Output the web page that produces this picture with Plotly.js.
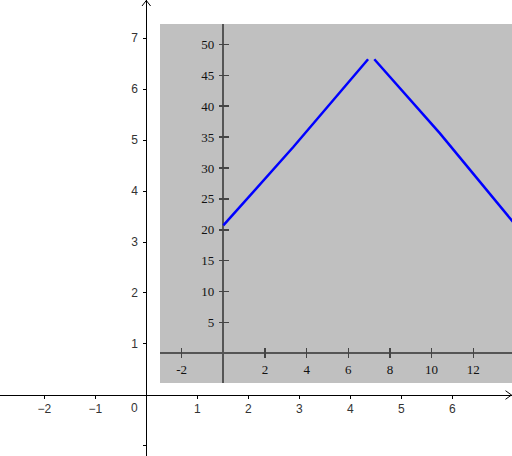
<!DOCTYPE html>
<html>
<head>
<meta charset="utf-8">
<script src="https://cdn.plot.ly/plotly-3.0.1.min.js"></script>
<style>html,body{margin:0;padding:0;background:#fff}#chart{width:512px;height:456px}</style>
</head>
<body>
<div id="chart"></div>
<script>
// Inner graph (piecewise line)
var leftX = [0, 3.36, 6.95];
var leftY = [20.7, 33.4, 47.6];
var rightX = [7.25, 10.4, 13.9];
var rightY = [47.6, 35.6, 21.3];

// Outer axes ticks
var outerXTicks = [-2, -1, 1, 2, 3, 4, 5, 6];
var outerYTicks = [-1, 1, 2, 3, 4, 5, 6, 7];
var outerYText = ['', '1', '2', '3', '4', '5', '6', '7'];

// Inner axes ticks
var innerXTicks = [-2, 2, 4, 6, 8, 10, 12];
var innerYTicks = [5, 10, 15, 20, 25, 30, 35, 40, 45, 50];

var W = 512, H = 456;
function px(x){return x / W;}
function py(y){return 1 - y / H;}

var traces = [
  {x: [], y: [], xaxis: 'x', yaxis: 'y', type: 'scatter', mode: 'lines', hoverinfo: 'skip', showlegend: false},
  {x: leftX, y: leftY, xaxis: 'x2', yaxis: 'y2', type: 'scatter', mode: 'lines',
   line: {color: '#0000ff', width: 2.5}, showlegend: false},
  {x: rightX, y: rightY, xaxis: 'x2', yaxis: 'y2', type: 'scatter', mode: 'lines',
   line: {color: '#0000ff', width: 2.5}, showlegend: false}
];

var outerFont = {family: 'Liberation Sans, Arial, sans-serif', size: 12, color: '#333'};
var innerFont = {family: 'Liberation Serif, Times New Roman, serif', size: 13, color: '#111'};

var layout = {
  width: W, height: H,
  margin: {l: 0, r: 0, t: 0, b: 0, pad: 0},
  paper_bgcolor: '#ffffff',
  plot_bgcolor: 'rgba(0,0,0,0)',
  showlegend: false,
  xaxis: {
    domain: [0, 1], range: [-2.87, 7.17], anchor: 'free', position: py(395),
    showgrid: false, zeroline: false, showline: true, linecolor: '#000', linewidth: 1,
    ticks: 'outside', ticklen: 3, tickcolor: '#000', tickwidth: 1,
    tickvals: outerXTicks, tickfont: outerFont, fixedrange: true
  },
  yaxis: {
    domain: [0, 1], range: [-1.2, 7.75], anchor: 'free', position: px(146.3),
    showgrid: false, zeroline: false, showline: true, linecolor: '#000', linewidth: 1,
    ticks: 'outside', ticklen: 3, tickcolor: '#000', tickwidth: 1, ticklabelstandoff: 3,
    tickvals: outerYTicks, ticktext: outerYText, tickfont: outerFont, fixedrange: true
  },
  xaxis2: {
    domain: [px(160), 1], range: [-3.04, 13.86], anchor: 'free', position: py(358.3),
    showgrid: false, showline: false,
    zeroline: true, zerolinecolor: '#555', zerolinewidth: 2,
    ticks: 'inside', ticklen: 10, tickwidth: 1.5, tickcolor: '#444', ticklabelstandoff: 2,
    tickvals: innerXTicks, ticktext: innerXTicks.map(function(v){return String(v);}),
    tickfont: innerFont, fixedrange: true
  },
  yaxis2: {
    domain: [py(383), py(24)], range: [-4.8, 53.3], anchor: 'free', position: px(218.3),
    showgrid: false, showline: false,
    zeroline: true, zerolinecolor: '#555', zerolinewidth: 2,
    ticks: 'inside', ticklen: 10, tickwidth: 1.5, tickcolor: '#444', ticklabelstandoff: 4,
    tickvals: innerYTicks, tickfont: innerFont, fixedrange: true
  },
  shapes: [
    {type: 'rect', xref: 'paper', yref: 'paper', x0: px(160), x1: 1, y0: py(383), y1: py(24),
     fillcolor: '#c0c0c0', line: {width: 0}, layer: 'below'},
    {type: 'path', xref: 'paper', yref: 'paper',
     path: 'M ' + px(142) + ' ' + py(6) + ' L ' + px(146.3) + ' ' + py(0.5) + ' L ' + px(150.6) + ' ' + py(6),
     line: {color: '#000', width: 1}},
    {type: 'path', xref: 'paper', yref: 'paper',
     path: 'M ' + px(505.5) + ' ' + py(390.7) + ' L ' + px(511.5) + ' ' + py(395) + ' L ' + px(505.5) + ' ' + py(399.3),
     line: {color: '#000', width: 1}}
  ],
  annotations: [
    {text: '0', xref: 'paper', yref: 'paper', x: px(134), y: py(408), showarrow: false,
     xanchor: 'center', yanchor: 'middle', font: outerFont}
  ]
};

Plotly.newPlot('chart', traces, layout, {displayModeBar: false, staticPlot: true});
</script>
</body>
</html>
